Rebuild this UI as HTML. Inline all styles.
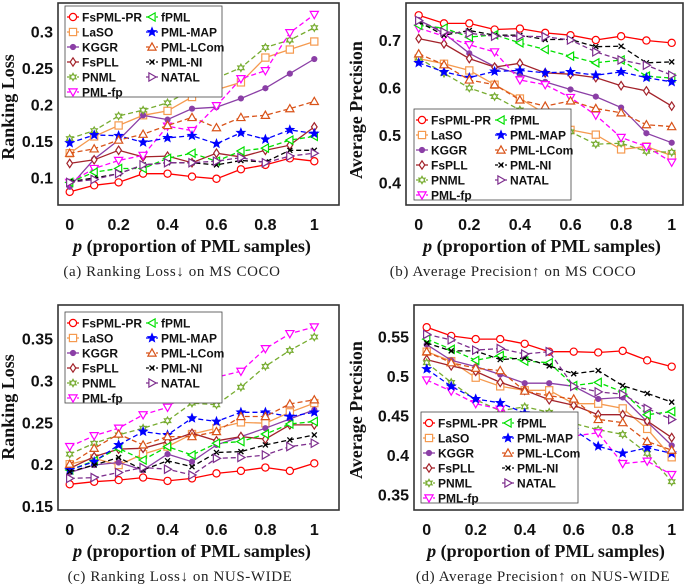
<!DOCTYPE html>
<html><head><meta charset="utf-8">
<style>
body{margin:0;background:#fff;width:685px;height:587px;overflow:hidden}
svg{display:block}
.tick{font:bold 16px "Liberation Sans",sans-serif;fill:#111}
.lg{font:bold 12px "Liberation Sans",sans-serif;fill:#111}
.ax{font:bold 18px "Liberation Serif",serif;fill:#111}
.cap{font:15px "Liberation Serif",serif;fill:#222;letter-spacing:0.6px}
</style></head><body>
<svg id="root" width="685" height="587" xmlns="http://www.w3.org/2000/svg"></svg>
<script>
const pValues=[0,0.1,0.2,0.3,0.4,0.5,0.6,0.7,0.8,0.9,1];
const xTicks=[0,0.2,0.4,0.6,0.8,1];
const xTickLabels=["0","0.2","0.4","0.6","0.8","1"];
const seriesNames=["FsPML-PR","LaSO","KGGR","FsPLL","PNML","PML-fp","fPML","PML-MAP","PML-LCom","PML-NI","NATAL"];
// Ranking Loss on MS COCO
const rlCoco=[
[0.080,0.089,0.093,0.105,0.105,0.101,0.098,0.111,0.117,0.126,0.122],
[0.133,0.156,0.171,0.185,0.191,0.210,0.220,0.230,0.264,0.275,0.286],
[0.087,0.125,0.151,0.185,0.179,0.194,0.196,0.208,0.222,0.242,0.262],
[0.119,0.124,0.137,0.128,0.129,0.120,0.133,0.128,0.137,0.144,0.169],
[0.153,0.164,0.184,0.192,0.202,0.220,0.236,0.250,0.278,0.288,0.305],
[0.093,0.112,0.123,0.130,0.170,0.164,0.198,0.235,0.246,0.298,0.323],
[0.093,0.107,0.112,0.112,0.126,0.133,0.122,0.136,0.140,0.151,0.156],
[0.147,0.158,0.157,0.148,0.154,0.157,0.146,0.161,0.152,0.165,0.160],
[0.133,0.139,0.151,0.159,0.171,0.182,0.168,0.182,0.185,0.194,0.204],
[0.094,0.099,0.105,0.117,0.120,0.120,0.117,0.123,0.121,0.137,0.137],
[0.093,0.097,0.105,0.117,0.120,0.120,0.122,0.127,0.120,0.129,0.133]];
const rlCocoTicks=[0.1,0.15,0.2,0.25,0.3];
const rlCocoTickLabels=["0.1","0.15","0.2","0.25","0.3"];
// Average Precision on MS COCO
const apCoco=[
[0.752,0.735,0.735,0.722,0.724,0.715,0.710,0.700,0.708,0.699,0.694],
[0.661,0.650,0.636,0.606,0.577,0.545,0.511,0.501,0.470,0.476,0.457],
[0.742,0.714,0.672,0.644,0.628,0.612,0.596,0.581,0.558,0.504,0.484],
[0.703,0.692,0.661,0.643,0.651,0.631,0.628,0.621,0.604,0.593,0.561],
[0.662,0.630,0.599,0.581,0.553,0.530,0.507,0.481,0.483,0.466,0.464],
[0.725,0.708,0.690,0.675,0.616,0.606,0.579,0.542,0.495,0.476,0.443],
[0.731,0.725,0.706,0.711,0.694,0.680,0.666,0.652,0.658,0.624,0.620],
[0.652,0.633,0.621,0.634,0.636,0.631,0.633,0.626,0.633,0.621,0.612],
[0.671,0.648,0.616,0.606,0.574,0.561,0.572,0.556,0.547,0.522,0.518],
[0.738,0.710,0.720,0.710,0.710,0.701,0.701,0.686,0.687,0.652,0.654],
[0.741,0.717,0.714,0.708,0.708,0.707,0.700,0.675,0.658,0.647,0.626]];
const apCocoTicks=[0.4,0.5,0.6,0.7];
const apCocoTickLabels=["0.4","0.5","0.6","0.7"];
// Ranking Loss on NUS-WIDE
const rlNus=[
[0.176,0.179,0.181,0.184,0.180,0.183,0.189,0.192,0.196,0.192,0.201],
[0.200,0.207,0.199,0.212,0.221,0.236,0.243,0.250,0.249,0.262,0.273],
[0.190,0.199,0.202,0.193,0.212,0.203,0.223,0.233,0.243,0.254,0.265],
[0.195,0.209,0.218,0.219,0.227,0.237,0.228,0.233,0.230,0.247,0.247],
[0.212,0.225,0.235,0.243,0.252,0.273,0.271,0.292,0.317,0.336,0.352],
[0.221,0.234,0.243,0.259,0.268,0.290,0.304,0.311,0.338,0.356,0.364],
[0.193,0.204,0.219,0.205,0.221,0.211,0.225,0.227,0.236,0.248,0.251],
[0.193,0.203,0.223,0.239,0.235,0.255,0.251,0.262,0.262,0.257,0.262],
[0.200,0.219,0.236,0.223,0.233,0.233,0.239,0.257,0.257,0.272,0.277],
[0.191,0.199,0.208,0.193,0.204,0.197,0.214,0.215,0.223,0.229,0.235],
[0.183,0.184,0.190,0.196,0.194,0.187,0.207,0.208,0.211,0.221,0.225]];
const rlNusTicks=[0.15,0.2,0.25,0.3,0.35];
const rlNusTickLabels=["0.15","0.2","0.25","0.3","0.35"];
// Average Precision on NUS-WIDE
const apNus=[
[0.562,0.551,0.547,0.547,0.541,0.531,0.531,0.530,0.532,0.520,0.512],
[0.531,0.519,0.498,0.487,0.482,0.482,0.465,0.465,0.459,0.433,0.397],
[0.540,0.520,0.512,0.502,0.491,0.491,0.487,0.471,0.473,0.442,0.412],
[0.521,0.513,0.506,0.492,0.482,0.470,0.463,0.451,0.451,0.443,0.422],
[0.517,0.492,0.470,0.456,0.461,0.454,0.440,0.432,0.426,0.402,0.366],
[0.495,0.481,0.465,0.458,0.444,0.436,0.424,0.428,0.389,0.392,0.375],
[0.547,0.534,0.520,0.526,0.519,0.517,0.488,0.492,0.480,0.451,0.455],
[0.509,0.487,0.471,0.466,0.453,0.444,0.432,0.411,0.402,0.409,0.402],
[0.531,0.517,0.510,0.507,0.481,0.475,0.471,0.445,0.441,0.417,0.406],
[0.542,0.532,0.532,0.521,0.523,0.513,0.503,0.507,0.488,0.478,0.467],
[0.553,0.546,0.533,0.535,0.528,0.531,0.487,0.480,0.477,0.459,0.445]];
const apNusTicks=[0.35,0.4,0.45,0.5,0.55];
const apNusTickLabels=["0.35","0.4","0.45","0.5","0.55"];

const colors=["#ff0000","#f59a4f","#8b3fa6","#a3232b","#77ac30","#ff00ff","#00e000","#0000ff","#d95319","#000000","#7e2f8e"];
const dashed=[false,false,false,false,true,true,true,true,true,true,true];
const markers=["circle","square","dot","diamond","hex","down","left","star","up","x","right"];

const NS="http://www.w3.org/2000/svg";
const root=document.getElementById('root');
function mk(tag,attrs,parent){const e=document.createElementNS(NS,tag);for(const k in attrs)e.setAttribute(k,attrs[k]);(parent||root).appendChild(e);return e;}

function marker(g,type,x,y,c){
  const r=3.6;let e;
  if(type==="circle")e=mk('circle',{cx:x,cy:y,r:r,fill:'#fff',stroke:c,'stroke-width':1.2},g);
  else if(type==="square")e=mk('rect',{x:x-r,y:y-r,width:2*r,height:2*r,fill:'#fff',stroke:c,'stroke-width':1.2},g);
  else if(type==="dot")e=mk('circle',{cx:x,cy:y,r:2.6,fill:c,stroke:c},g);
  else if(type==="diamond")e=mk('polygon',{points:`${x},${y-r-0.6} ${x+r-0.8},${y} ${x},${y+r+0.6} ${x-r+0.8},${y}`,fill:'#fff',stroke:c,'stroke-width':1.2},g);
  else if(type==="hex"){let p=[];for(let i=0;i<12;i++){const a=i*Math.PI/6;const rr=i%2?2:r;p.push((x+rr*Math.sin(a)).toFixed(1)+','+(y-rr*Math.cos(a)).toFixed(1));}e=mk('polygon',{points:p.join(' '),fill:'#fff',stroke:c,'stroke-width':1.2},g);}
  else if(type==="star"){let p=[];for(let i=0;i<10;i++){const a=i*Math.PI/5;const rr=i%2?2:r+1;p.push((x+rr*Math.sin(a)).toFixed(1)+','+(y-rr*Math.cos(a)).toFixed(1));}e=mk('polygon',{points:p.join(' '),fill:c,stroke:c,'stroke-width':0.8},g);}
  else if(type==="down")e=mk('polygon',{points:`${x-r-0.5},${y-r+0.5} ${x+r+0.5},${y-r+0.5} ${x},${y+r+0.5}`,fill:'#fff',stroke:c,'stroke-width':1.2},g);
  else if(type==="up")e=mk('polygon',{points:`${x-r-0.5},${y+r-0.5} ${x+r+0.5},${y+r-0.5} ${x},${y-r-0.5}`,fill:'#fff',stroke:c,'stroke-width':1.2},g);
  else if(type==="left")e=mk('polygon',{points:`${x+r-0.5},${y-r-0.5} ${x+r-0.5},${y+r+0.5} ${x-r-0.5},${y}`,fill:'#fff',stroke:c,'stroke-width':1.2},g);
  else if(type==="right")e=mk('polygon',{points:`${x-r+0.5},${y-r-0.5} ${x-r+0.5},${y+r+0.5} ${x+r+0.5},${y}`,fill:'#fff',stroke:c,'stroke-width':1.2},g);
  else if(type==="x")e=mk('path',{d:`M${x-2.5},${y-2.5}L${x+2.5},${y+2.5}M${x-2.5},${y+2.5}L${x+2.5},${y-2.5}`,stroke:c,'stroke-width':1.3,fill:'none'},g);
  
  
}

function chart(cfg){
  const g=mk('g',{});
  
  
  const xs=v=>cfg.x0+(cfg.x1-cfg.x0)*v;
  const ys=v=>cfg.yA+(v-cfg.vA)*(cfg.yB-cfg.yA)/(cfg.vB-cfg.vA);
  const frame=mk('rect',{x:cfg.bl,y:cfg.bt,width:cfg.br-cfg.bl,height:cfg.bb-cfg.bt,fill:'#fff',stroke:'#333','stroke-width':1.6},g);
  
  
  xTicks.forEach((t,i)=>{
    const tx=mk('text',{x:xs(t),y:cfg.bb+25,class:'tick','text-anchor':'middle'},g);tx.textContent=xTickLabels[i];
    
    
  });
  cfg.yt.forEach((t,i)=>{
    const tx=mk('text',{x:cfg.bl-5,y:ys(t)+6,class:'tick','text-anchor':'end'},g);tx.textContent=cfg.ytl[i];
    
    
  });
  const xl=mk('text',{x:cfg.xlx,y:cfg.bb+47,class:'ax','text-anchor':'middle'},g);
  xl.innerHTML='<tspan font-style="italic">p</tspan> (proportion of PML samples)';
  
  
  const yl=mk('text',{x:0,y:0,class:'ax','text-anchor':'middle',transform:`translate(${cfg.ylx},${cfg.yly}) rotate(-90)`},g);
  yl.textContent=cfg.ytitle;
  
  
  const cp=mk('text',{x:cfg.capx,y:cfg.capy,class:'cap','text-anchor':'middle'},g);
  cp.textContent=cfg.caption;
  
  
  cfg.data.forEach((vals,s)=>{
    const sg=mk('g',{},g);
    
    
    const pts=vals.map((v,i)=>xs(pValues[i]).toFixed(1)+','+ys(v).toFixed(1)).join(' ');
    const ln=mk('polyline',{points:pts,fill:'none',stroke:colors[s],'stroke-width':1.3,'stroke-dasharray':dashed[s]?'5,3':'none'},sg);
    
    
    vals.forEach((v,i)=>marker(sg,markers[s],xs(pValues[i]),ys(v),colors[s]));
  });
  const L=cfg.leg;
  const lg=mk('g',{},g);
  
  
  const lb=mk('rect',{x:L.x,y:L.y,width:157,height:91,fill:'#fff',stroke:'#444','stroke-width':0.8},lg);
  
  
  seriesNames.forEach((n,s)=>{
    const col=s<6?0:1,row=s<6?s:s-6;
    const lx=L.x+2+col*79,ly=L.y+11+row*15;
    const eg=mk('g',{},lg);
    
    
    mk('line',{x1:lx,y1:ly,x2:lx+12,y2:ly,stroke:colors[s],'stroke-width':1.3,'stroke-dasharray':dashed[s]?'3,2':'none'},eg);
    marker(eg,markers[s],lx+6,ly,colors[s]);
    const t=mk('text',{x:lx+15,y:ly+4.5,class:'lg'},eg);t.textContent=n;
  });
}

chart({name:'chart-ranking-loss-coco',data:rlCoco,yt:rlCocoTicks,ytl:rlCocoTickLabels,bl:58,br:339,bt:3,bb:205,x0:69.7,x1:314.3,vA:0.1,yA:177.3,vB:0.3,yB:31.3,ytitle:'Ranking Loss',ylx:14,yly:107,xlx:192,capx:172,capy:276,caption:'(a) Ranking Loss↓ on MS COCO',leg:{x:65,y:6}});
chart({name:'chart-average-precision-coco',data:apCoco,yt:apCocoTicks,ytl:apCocoTickLabels,bl:406,br:683,bt:3,bb:205,x0:418.7,x1:671.7,vA:0.4,yA:182.7,vB:0.7,yB:40,ytitle:'Average Precision',ylx:362,yly:110,xlx:542,capx:513,capy:276,caption:'(b) Average Precision↑ on MS COCO',leg:{x:414,y:109}});
chart({name:'chart-ranking-loss-nus',data:rlNus,yt:rlNusTicks,ytl:rlNusTickLabels,bl:58,br:339,bt:305,bb:510,x0:69.7,x1:314.3,vA:0.15,yA:506,vB:0.35,yB:338.7,ytitle:'Ranking Loss',ylx:14,yly:407,xlx:192,capx:180,capy:581,caption:'(c) Ranking Loss↓ on NUS-WIDE',leg:{x:65,y:312}});
chart({name:'chart-average-precision-nus',data:apNus,yt:apNusTicks,ytl:apNusTickLabels,bl:414,br:683,bt:305,bb:510,x0:426.7,x1:671.7,vA:0.35,yA:494.3,vB:0.55,yB:336.7,ytitle:'Average Precision',ylx:362,yly:410,xlx:546,capx:543,capy:581,caption:'(d) Average Precision↑ on NUS-WIDE',leg:{x:421,y:412}});
</script>
</body></html>
